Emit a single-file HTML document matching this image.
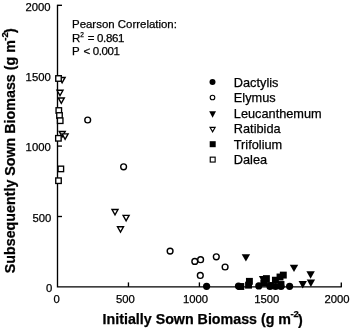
<!DOCTYPE html>
<html><head><meta charset="utf-8"><title>Biomass correlation</title>
<style>html,body{margin:0;padding:0;background:#fff}svg{display:block}text{font-family:"Liberation Sans",sans-serif;fill:#000;stroke:#000;stroke-width:.25px}</style>
</head><body>
<svg width="350" height="328" viewBox="0 0 350 328">
<rect width="350" height="328" fill="#fff"/>
<g stroke="#000" stroke-width="1.35" fill="none" stroke-linecap="butt">
<path d="M57.5 4.8V286.9H341.8"/>
<path d="M128.45 286.9v-4.5"/>
<path d="M57.5 216.50h4.5"/>
<path d="M199.40 286.9v-4.5"/>
<path d="M57.5 146.10h4.5"/>
<path d="M270.35 286.9v-4.5"/>
<path d="M57.5 75.70h4.5"/>
<path d="M341.30 286.9v-4.5"/>
<path d="M57.5 5.30h4.5"/>
</g>
<circle cx="206.6" cy="286.3" r="3.6" fill="#000"/>
<circle cx="238.5" cy="286.1" r="3.6" fill="#000"/>
<circle cx="258.8" cy="285.9" r="3.6" fill="#000"/>
<circle cx="270" cy="286.5" r="3.6" fill="#000"/>
<circle cx="275.5" cy="286.5" r="3.6" fill="#000"/>
<circle cx="281" cy="286.5" r="3.6" fill="#000"/>
<circle cx="289.6" cy="286.3" r="3.6" fill="#000"/>
<circle cx="87.7" cy="120" r="2.9" fill="#fff" stroke="#000" stroke-width="1.4"/>
<circle cx="123.6" cy="166.8" r="2.9" fill="#fff" stroke="#000" stroke-width="1.4"/>
<circle cx="170.1" cy="251.1" r="2.9" fill="#fff" stroke="#000" stroke-width="1.4"/>
<circle cx="194.8" cy="261.4" r="2.9" fill="#fff" stroke="#000" stroke-width="1.4"/>
<circle cx="200.6" cy="259.7" r="2.9" fill="#fff" stroke="#000" stroke-width="1.4"/>
<circle cx="200.3" cy="275.45" r="2.9" fill="#fff" stroke="#000" stroke-width="1.4"/>
<circle cx="216.3" cy="256.8" r="2.9" fill="#fff" stroke="#000" stroke-width="1.4"/>
<circle cx="225.1" cy="267" r="2.9" fill="#fff" stroke="#000" stroke-width="1.4"/>
<path d="M241.70 254.20h8.4l-4.20 7.4z" fill="#000"/>
<path d="M289.80 264.70h8.4l-4.20 7.4z" fill="#000"/>
<path d="M306.40 271.30h8.4l-4.20 7.4z" fill="#000"/>
<path d="M306.70 279.60h8.4l-4.20 7.4z" fill="#000"/>
<path d="M298.55 281.10h8.4l-4.20 7.4z" fill="#000"/>
<path d="M258.90 276.00h8.4l-4.20 7.4z" fill="#000"/>
<path d="M59.10 77.43h6.0l-3.00 5.4z" fill="#fff" stroke="#000" stroke-width="1.4" stroke-linejoin="miter"/>
<path d="M57.00 90.23h6.0l-3.00 5.4z" fill="#fff" stroke="#000" stroke-width="1.4" stroke-linejoin="miter"/>
<path d="M58.30 97.93h6.0l-3.00 5.4z" fill="#fff" stroke="#000" stroke-width="1.4" stroke-linejoin="miter"/>
<path d="M59.20 131.43h6.0l-3.00 5.4z" fill="#fff" stroke="#000" stroke-width="1.4" stroke-linejoin="miter"/>
<path d="M62.10 133.83h6.0l-3.00 5.4z" fill="#fff" stroke="#000" stroke-width="1.4" stroke-linejoin="miter"/>
<path d="M112.00 209.53h6.0l-3.00 5.4z" fill="#fff" stroke="#000" stroke-width="1.4" stroke-linejoin="miter"/>
<path d="M123.10 215.33h6.0l-3.00 5.4z" fill="#fff" stroke="#000" stroke-width="1.4" stroke-linejoin="miter"/>
<path d="M117.50 226.73h6.0l-3.00 5.4z" fill="#fff" stroke="#000" stroke-width="1.4" stroke-linejoin="miter"/>
<rect x="245.95" y="277.90" width="6.9" height="6.9" fill="#000"/>
<rect x="245.10" y="281.70" width="6.9" height="6.9" fill="#000"/>
<rect x="237.35" y="283.05" width="6.9" height="6.9" fill="#000"/>
<rect x="260.35" y="279.55" width="6.9" height="6.9" fill="#000"/>
<rect x="262.95" y="275.15" width="6.9" height="6.9" fill="#000"/>
<rect x="271.95" y="276.75" width="6.9" height="6.9" fill="#000"/>
<rect x="276.55" y="273.55" width="6.9" height="6.9" fill="#000"/>
<rect x="279.85" y="271.65" width="6.9" height="6.9" fill="#000"/>
<rect x="277.55" y="281.05" width="6.9" height="6.9" fill="#000"/>
<rect x="267.05" y="282.05" width="6.9" height="6.9" fill="#000"/>
<rect x="55.75" y="75.75" width="5.5" height="5.5" fill="#fff" stroke="#000" stroke-width="1.35"/>
<rect x="56.05" y="107.75" width="5.5" height="5.5" fill="#fff" stroke="#000" stroke-width="1.35"/>
<rect x="56.75" y="112.75" width="5.5" height="5.5" fill="#fff" stroke="#000" stroke-width="1.35"/>
<rect x="57.45" y="117.95" width="5.5" height="5.5" fill="#fff" stroke="#000" stroke-width="1.35"/>
<rect x="55.65" y="135.55" width="5.5" height="5.5" fill="#fff" stroke="#000" stroke-width="1.35"/>
<rect x="58.10" y="166.15" width="5.5" height="5.5" fill="#fff" stroke="#000" stroke-width="1.35"/>
<rect x="55.75" y="177.95" width="5.5" height="5.5" fill="#fff" stroke="#000" stroke-width="1.35"/>
<circle cx="212.5" cy="82.1" r="3.0" fill="#000"/>
<circle cx="212.5" cy="97.5" r="2.3" fill="#fff" stroke="#000" stroke-width="1.1"/>
<path d="M209.20 111.15h6.8l-3.40 6.5z" fill="#000"/>
<path d="M210.10 127.45h5.0l-2.50 4.3z" fill="#fff" stroke="#000" stroke-width="1.2" stroke-linejoin="miter"/>
<rect x="209.70" y="141.20" width="6.0" height="6.0" fill="#000"/>
<rect x="210.25" y="157.15" width="4.9" height="4.9" fill="#fff" stroke="#000" stroke-width="1.15"/>
<text x="233.8" y="86.8" font-size="12.75">Dactylis</text>
<text x="233.8" y="102.2" font-size="12.75">Elymus</text>
<text x="233.8" y="117.7" font-size="12.75">Leucanthemum</text>
<text x="233.8" y="133.0" font-size="12.75">Ratibida</text>
<text x="233.8" y="148.5" font-size="12.75">Trifolium</text>
<text x="233.8" y="163.9" font-size="12.75">Dalea</text>
<text x="72" y="28" font-size="11.45">Pearson Correlation:</text>
<text x="72" y="42.1" font-size="11.5">R<tspan font-size="6.5" dy="-4.8">2</tspan><tspan dy="4.8" dx="0.5"> =</tspan><tspan dx="-0.25" letter-spacing="-0.33"> 0.861</tspan></text>
<text x="72" y="54.9" font-size="11.5">P<tspan dx="0.85"> &lt;</tspan><tspan dx="-0.35" letter-spacing="-0.37"> 0.001</tspan></text>
<text x="45.95" y="292.25" font-size="11.3">0</text>
<text x="32.5" y="221.85" font-size="11.3">500</text>
<text x="25.6" y="151.45" font-size="11.3">1000</text>
<text x="25.6" y="81.05" font-size="11.3">1500</text>
<text x="25.4" y="10.65" font-size="11.3">2000</text>
<text x="53.5" y="302.8" font-size="11.3">0</text>
<text x="115.9" y="302.8" font-size="11.3">500</text>
<text x="182.9" y="302.8" font-size="11.3">1000</text>
<text x="254.2" y="302.8" font-size="11.3">1500</text>
<text x="324.5" y="302.8" font-size="11.3">2000</text>
<text x="102.6" y="324.2" font-size="14.25" font-weight="bold">Initially Sown Biomass (g m<tspan font-size="9.5" dy="-6.9" dx="-0.6">-2</tspan><tspan dy="7.5" dx="-0.8">)</tspan></text>
<text transform="translate(15.1 273.2) rotate(-90)" font-size="14.27" font-weight="bold">Subsequently Sown Biomass (g m<tspan font-size="9.5" dy="-6.9" dx="-0.6">-2</tspan><tspan dy="6.5" dx="-0.8">)</tspan></text>
</svg>
</body></html>
